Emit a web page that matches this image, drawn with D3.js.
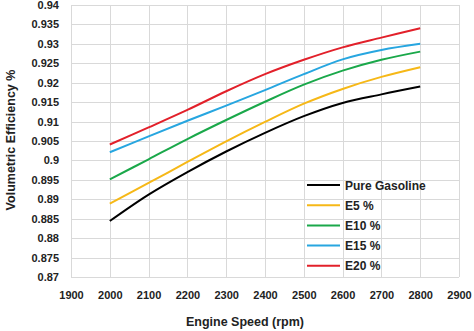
<!DOCTYPE html>
<meta charset="utf-8">
<head lang="en">
    <title></title>
    <script src="https://cdn.jsdelivr.net/npm/d3@7/dist/d3.min.js"></script>
    <style type="text/css">
        body { margin: 0; background: #fff; }
        text { font-family: "Liberation Sans", Arial, sans-serif; font-weight: bold; fill: #222; }
        .grid line { stroke: #d9d9d9; stroke-width: 1; }
        .axis path, .axis line { display: none; }
        .series { fill: none; stroke-width: 2; }
    </style>
</head>
<body>
<script type="text/javascript">

    // data
    var speeds = [2000, 2100, 2200, 2300, 2400, 2500, 2600, 2700, 2800];
    var seriesNames = ["Pure Gasoline", "E5 %", "E10 %", "E15 %", "E20 %"];
    var pureGasoline = [0.8844, 0.8912, 0.8970, 0.9023, 0.9071, 0.9114, 0.9148, 0.9170, 0.9190];
    var e5 = [0.8889, 0.8942, 0.8996, 0.9049, 0.9099, 0.9146, 0.9184, 0.9215, 0.9240];
    var e10 = [0.8951, 0.9003, 0.9055, 0.9104, 0.9151, 0.9195, 0.9231, 0.9259, 0.9280];
    var e15 = [0.9021, 0.9062, 0.9102, 0.9141, 0.9181, 0.9222, 0.9260, 0.9284, 0.9300];
    var e20 = [0.9041, 0.9085, 0.9130, 0.9178, 0.9222, 0.9259, 0.9291, 0.9316, 0.9340];
    var xTicks = [1900, 2000, 2100, 2200, 2300, 2400, 2500, 2600, 2700, 2800, 2900];
    var yTicks = [0.87, 0.875, 0.88, 0.885, 0.89, 0.895, 0.9, 0.905, 0.91, 0.915, 0.92, 0.925, 0.93, 0.935, 0.94];
    var colors = ["#000000", "#f6b817", "#1aa84a", "#27a6e0", "#e2202a"];

    var width = 474;
    var height = 331;
    var plot = {left: 71, right: 459, top: 5, bottom: 277};

    var svg = d3.select("body")
        .append("svg")
        .attr("width", width)
        .attr("height", height);

    var xScale = d3.scaleLinear()
        .domain([1900, 2900])
        .range([plot.left, plot.right]);
    var yScale = d3.scaleLinear()
        .domain([0.87, 0.94])
        .range([plot.bottom, plot.top]);

    // gridlines
    var grid = svg.append("g").attr("class", "grid");
    grid.selectAll(".vg")
        .data(xTicks)
        .enter().append("line")
        .attr("x1", function (d) { return Math.round(xScale(d)) + 0.5; })
        .attr("x2", function (d) { return Math.round(xScale(d)) + 0.5; })
        .attr("y1", plot.top)
        .attr("y2", plot.bottom);
    grid.selectAll(".hg")
        .data(yTicks)
        .enter().append("line")
        .attr("x1", plot.left)
        .attr("x2", plot.right)
        .attr("y1", function (d) { return Math.round(yScale(d)) + 0.5; })
        .attr("y2", function (d) { return Math.round(yScale(d)) + 0.5; });

    // axes (labels only)
    var xAxis = d3.axisBottom(xScale)
        .tickValues(xTicks)
        .tickSize(0)
        .tickPadding(14)
        .tickFormat(d3.format("d"));
    svg.append("g")
        .attr("class", "axis")
        .attr("transform", "translate(0," + plot.bottom + ")")
        .call(xAxis)
        .selectAll("text")
        .attr("font-size", "11px");

    var yAxis = d3.axisLeft(yScale)
        .tickValues(yTicks)
        .tickSize(0)
        .tickPadding(12)
        .tickFormat(function (d) { return d3.format("")(+d.toFixed(3)); });
    svg.append("g")
        .attr("class", "axis")
        .attr("transform", "translate(" + plot.left + ",0)")
        .call(yAxis)
        .selectAll("text")
        .attr("font-size", "11px");
    svg.selectAll(".axis text").style("font-family", "Liberation Sans, Arial, sans-serif").style("font-weight", "bold").style("fill", "#222");

    // lines
    var allSeries = [pureGasoline, e5, e10, e15, e20];
    var line = d3.line()
        .x(function (d, i) { return xScale(speeds[i]); })
        .y(function (d) { return yScale(d); })
        .curve(d3.curveCatmullRom.alpha(0.5));

    svg.selectAll(".series")
        .data(allSeries)
        .enter().append("path")
        .attr("class", "series")
        .attr("stroke", function (d, i) { return colors[i]; })
        .attr("d", line);

    // legend
    var legend = svg.append("g").attr("transform", "translate(307,185)");
    var rows = legend.selectAll("g")
        .data(seriesNames)
        .enter().append("g")
        .attr("transform", function (d, i) { return "translate(0," + (i * 20.2) + ")"; });
    rows.append("line")
        .attr("x1", 0).attr("x2", 33)
        .attr("y1", 0).attr("y2", 0)
        .attr("stroke-width", 2)
        .attr("stroke", function (d, i) { return colors[i]; });
    rows.append("text")
        .attr("x", 38)
        .attr("y", 4.5)
        .attr("font-size", "12px")
        .text(function (d) { return d; });

    // axis titles
    svg.append("text")
        .attr("x", 245)
        .attr("y", 326)
        .attr("font-size", "12.5px")
        .attr("text-anchor", "middle")
        .text("Engine Speed (rpm)");
    svg.append("text")
        .attr("transform", "translate(15,140) rotate(-90)")
        .attr("font-size", "12.5px")
        .attr("text-anchor", "middle")
        .text("Volumetric Efficiency %");

</script>
</body>
